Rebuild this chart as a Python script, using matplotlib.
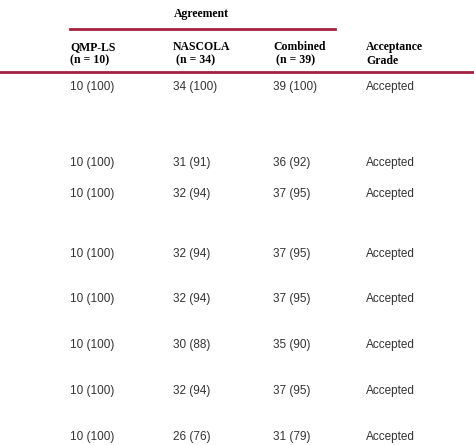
import matplotlib.pyplot as plt

qmp = ["10 (100)"] * 8
nascola = ["34 (100)", "31 (91)", "32 (94)", "32 (94)", "32 (94)", "30 (88)", "32 (94)", "26 (76)"]
combined = ["39 (100)", "36 (92)", "37 (95)", "37 (95)", "37 (95)", "35 (90)", "37 (95)", "31 (79)"]
grade = ["Accepted"] * 8
row_y = [87, 163, 194, 254, 299, 345, 391, 437]

headers = ["QMP-LS\n(n = 10)", "NASCOLA\n (n = 34)", "Combined\n (n = 39)", "Acceptance\nGrade"]
col_x = [70, 173, 273, 366]
RED = "#a3213d"

fig = plt.figure(figsize=(4.74, 4.45), dpi=100)
ax = fig.add_axes([0, 0, 1, 1])
ax.set_xlim(0, 474)
ax.set_ylim(445, 0)
ax.axis("off")

ax.text(174, 14, "Agreement", family="Liberation Serif", weight="bold",
        fontsize=8.5, va="center")
ax.plot([70, 335], [29, 29], color=RED, lw=2)
for x, h in zip(col_x, headers):
    ax.text(x, 54, h, family="Liberation Serif", weight="bold", fontsize=8.5,
            va="center", linespacing=1.15)
ax.plot([0, 474], [72, 72], color=RED, lw=2)

for i, y in enumerate(row_y):
    for x, v in zip(col_x, [qmp[i], nascola[i], combined[i], grade[i]]):
        ax.text(x, y, v, family="Liberation Sans", fontsize=8.5, va="center",
                color="#333333")

fig.savefig("out.png", dpi=100)
